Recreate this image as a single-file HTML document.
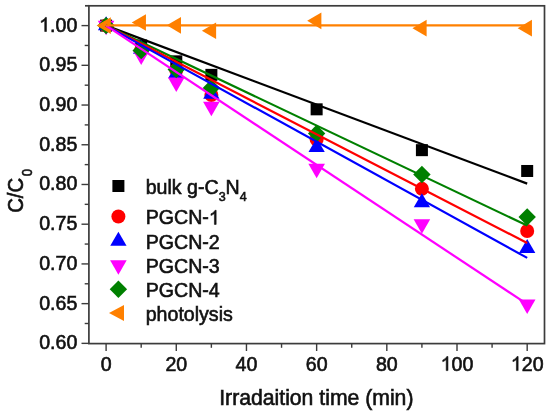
<!DOCTYPE html>
<html><head><meta charset="utf-8"><style>
html,body{margin:0;padding:0;background:#fff;}
svg{display:block;filter:blur(0.35px);}
.t{font-family:"Liberation Sans",sans-serif;font-size:19.6px;fill:#111;stroke:#111;stroke-width:0.6px;}
.s{font-size:12.5px;}
.lg{font-size:19.6px;}
.h{fill:none;stroke:none;}
</style></head><body>
<svg width="550" height="416" viewBox="0 0 550 416">
<rect x="88.9" y="5.8" width="455.60" height="337.80" fill="none" stroke="#3c3c3c" stroke-width="1.7"/>
<line x1="85" y1="5.8" x2="88.9" y2="5.8" stroke="#3c3c3c" stroke-width="1.7"/>
<line x1="81.50" y1="343.36" x2="88.9" y2="343.36" stroke="#3c3c3c" stroke-width="1.4"/>
<text x="77.3" y="349.26" text-anchor="end" class="t">0.60</text>
<line x1="84.70" y1="323.50" x2="88.9" y2="323.50" stroke="#3c3c3c" stroke-width="1.4"/>
<line x1="81.50" y1="303.64" x2="88.9" y2="303.64" stroke="#3c3c3c" stroke-width="1.4"/>
<text x="77.3" y="309.54" text-anchor="end" class="t">0.65</text>
<line x1="84.70" y1="283.78" x2="88.9" y2="283.78" stroke="#3c3c3c" stroke-width="1.4"/>
<line x1="81.50" y1="263.92" x2="88.9" y2="263.92" stroke="#3c3c3c" stroke-width="1.4"/>
<text x="77.3" y="269.82" text-anchor="end" class="t">0.70</text>
<line x1="84.70" y1="244.06" x2="88.9" y2="244.06" stroke="#3c3c3c" stroke-width="1.4"/>
<line x1="81.50" y1="224.20" x2="88.9" y2="224.20" stroke="#3c3c3c" stroke-width="1.4"/>
<text x="77.3" y="230.10" text-anchor="end" class="t">0.75</text>
<line x1="84.70" y1="204.34" x2="88.9" y2="204.34" stroke="#3c3c3c" stroke-width="1.4"/>
<line x1="81.50" y1="184.48" x2="88.9" y2="184.48" stroke="#3c3c3c" stroke-width="1.4"/>
<text x="77.3" y="190.38" text-anchor="end" class="t">0.80</text>
<line x1="84.70" y1="164.62" x2="88.9" y2="164.62" stroke="#3c3c3c" stroke-width="1.4"/>
<line x1="81.50" y1="144.76" x2="88.9" y2="144.76" stroke="#3c3c3c" stroke-width="1.4"/>
<text x="77.3" y="150.66" text-anchor="end" class="t">0.85</text>
<line x1="84.70" y1="124.90" x2="88.9" y2="124.90" stroke="#3c3c3c" stroke-width="1.4"/>
<line x1="81.50" y1="105.04" x2="88.9" y2="105.04" stroke="#3c3c3c" stroke-width="1.4"/>
<text x="77.3" y="110.94" text-anchor="end" class="t">0.90</text>
<line x1="84.70" y1="85.18" x2="88.9" y2="85.18" stroke="#3c3c3c" stroke-width="1.4"/>
<line x1="81.50" y1="65.32" x2="88.9" y2="65.32" stroke="#3c3c3c" stroke-width="1.4"/>
<text x="77.3" y="71.22" text-anchor="end" class="t">0.95</text>
<line x1="84.70" y1="45.46" x2="88.9" y2="45.46" stroke="#3c3c3c" stroke-width="1.4"/>
<line x1="81.50" y1="25.60" x2="88.9" y2="25.60" stroke="#3c3c3c" stroke-width="1.4"/>
<text x="77.3" y="31.50" text-anchor="end" class="t"><tspan class="h">1</tspan>.00</text>
<line x1="106.10" y1="343.6" x2="106.10" y2="351.00" stroke="#3c3c3c" stroke-width="1.4"/>
<text x="106.10" y="370.6" text-anchor="middle" class="t">0</text>
<line x1="141.19" y1="343.6" x2="141.19" y2="347.80" stroke="#3c3c3c" stroke-width="1.4"/>
<line x1="176.28" y1="343.6" x2="176.28" y2="351.00" stroke="#3c3c3c" stroke-width="1.4"/>
<text x="176.28" y="370.6" text-anchor="middle" class="t">20</text>
<line x1="211.37" y1="343.6" x2="211.37" y2="347.80" stroke="#3c3c3c" stroke-width="1.4"/>
<line x1="246.46" y1="343.6" x2="246.46" y2="351.00" stroke="#3c3c3c" stroke-width="1.4"/>
<text x="246.46" y="370.6" text-anchor="middle" class="t">40</text>
<line x1="281.55" y1="343.6" x2="281.55" y2="347.80" stroke="#3c3c3c" stroke-width="1.4"/>
<line x1="316.64" y1="343.6" x2="316.64" y2="351.00" stroke="#3c3c3c" stroke-width="1.4"/>
<text x="316.64" y="370.6" text-anchor="middle" class="t">60</text>
<line x1="351.73" y1="343.6" x2="351.73" y2="347.80" stroke="#3c3c3c" stroke-width="1.4"/>
<line x1="386.82" y1="343.6" x2="386.82" y2="351.00" stroke="#3c3c3c" stroke-width="1.4"/>
<text x="386.82" y="370.6" text-anchor="middle" class="t">80</text>
<line x1="421.91" y1="343.6" x2="421.91" y2="347.80" stroke="#3c3c3c" stroke-width="1.4"/>
<line x1="457.00" y1="343.6" x2="457.00" y2="351.00" stroke="#3c3c3c" stroke-width="1.4"/>
<text x="457.00" y="370.6" text-anchor="middle" class="t"><tspan class="h">1</tspan>00</text>
<line x1="492.09" y1="343.6" x2="492.09" y2="347.80" stroke="#3c3c3c" stroke-width="1.4"/>
<line x1="527.18" y1="343.6" x2="527.18" y2="351.00" stroke="#3c3c3c" stroke-width="1.4"/>
<text x="527.18" y="370.6" text-anchor="middle" class="t"><tspan class="h">1</tspan>20</text>
<rect x="100.10" y="19.60" width="12" height="12" fill="#000000"/>
<rect x="135.19" y="39.46" width="12" height="12" fill="#000000"/>
<rect x="170.28" y="55.35" width="12" height="12" fill="#000000"/>
<rect x="205.37" y="68.85" width="12" height="12" fill="#000000"/>
<rect x="310.64" y="103.33" width="12" height="12" fill="#000000"/>
<rect x="415.91" y="144.16" width="12" height="12" fill="#000000"/>
<rect x="521.18" y="164.98" width="12" height="12" fill="#000000"/>
<circle cx="106.10" cy="25.60" r="7" fill="#ff0000"/>
<circle cx="141.19" cy="50.23" r="7" fill="#ff0000"/>
<circle cx="176.28" cy="70.09" r="7" fill="#ff0000"/>
<circle cx="211.37" cy="95.03" r="7" fill="#ff0000"/>
<circle cx="316.64" cy="139.20" r="7" fill="#ff0000"/>
<circle cx="421.91" cy="188.85" r="7" fill="#ff0000"/>
<circle cx="527.18" cy="230.95" r="7" fill="#ff0000"/>
<polygon points="106.10,16.27 114.25,30.27 97.95,30.27" fill="#0000ff"/>
<polygon points="141.19,39.70 149.34,53.70 133.04,53.70" fill="#0000ff"/>
<polygon points="176.28,64.17 184.43,78.17 168.13,78.17" fill="#0000ff"/>
<polygon points="211.37,84.74 219.52,98.74 203.22,98.74" fill="#0000ff"/>
<polygon points="316.64,137.97 324.79,151.97 308.49,151.97" fill="#0000ff"/>
<polygon points="421.91,193.26 430.06,207.26 413.76,207.26" fill="#0000ff"/>
<polygon points="527.18,239.10 535.33,253.10 519.03,253.10" fill="#0000ff"/>
<polygon points="97.80,20.77 114.40,20.77 106.10,35.27" fill="#ff00ff"/>
<polygon points="132.89,50.40 149.49,50.40 141.19,64.90" fill="#ff00ff"/>
<polygon points="167.98,77.49 184.58,77.49 176.28,91.99" fill="#ff00ff"/>
<polygon points="203.07,101.80 219.67,101.80 211.37,116.30" fill="#ff00ff"/>
<polygon points="308.34,163.76 324.94,163.76 316.64,178.26" fill="#ff00ff"/>
<polygon points="413.61,219.13 430.21,219.13 421.91,233.63" fill="#ff00ff"/>
<polygon points="518.88,299.60 535.48,299.60 527.18,314.10" fill="#ff00ff"/>
<polygon points="106.10,16.90 114.80,25.60 106.10,34.30 97.40,25.60" fill="#008000"/>
<polygon points="141.19,41.92 149.89,50.62 141.19,59.32 132.49,50.62" fill="#008000"/>
<polygon points="176.28,60.83 184.98,69.53 176.28,78.23 167.58,69.53" fill="#008000"/>
<polygon points="211.37,79.34 220.07,88.04 211.37,96.74 202.67,88.04" fill="#008000"/>
<polygon points="316.64,124.78 325.34,133.48 316.64,142.18 307.94,133.48" fill="#008000"/>
<polygon points="421.91,165.85 430.61,174.55 421.91,183.25 413.21,174.55" fill="#008000"/>
<polygon points="527.18,208.35 535.88,217.05 527.18,225.75 518.48,217.05" fill="#008000"/>
<polygon points="96.63,25.60 110.83,17.30 110.83,33.90" fill="#ff8000"/>
<polygon points="131.72,22.50 145.92,14.20 145.92,30.80" fill="#ff8000"/>
<polygon points="166.81,25.36 181.01,17.06 181.01,33.66" fill="#ff8000"/>
<polygon points="201.90,30.68 216.10,22.38 216.10,38.98" fill="#ff8000"/>
<polygon points="307.17,20.83 321.37,12.53 321.37,29.13" fill="#ff8000"/>
<polygon points="412.44,28.14 426.64,19.84 426.64,36.44" fill="#ff8000"/>
<polygon points="517.71,28.14 531.91,19.84 531.91,36.44" fill="#ff8000"/>
<line x1="106.10" y1="25.60" x2="527.18" y2="183.6" stroke="#000000" stroke-width="2.2"/>
<line x1="106.10" y1="25.60" x2="527.18" y2="225.6" stroke="#008000" stroke-width="2.2"/>
<line x1="106.10" y1="25.60" x2="527.18" y2="243.0" stroke="#ff0000" stroke-width="2.2"/>
<line x1="106.10" y1="25.60" x2="527.18" y2="257.9" stroke="#0000ff" stroke-width="2.2"/>
<line x1="106.10" y1="25.60" x2="527.18" y2="304.2" stroke="#ff00ff" stroke-width="2.2"/>
<line x1="106.10" y1="25.4" x2="527.18" y2="25.4" stroke="#ff8000" stroke-width="2.2"/>
<rect x="112.40" y="180.00" width="12" height="12" fill="#000000"/>
<circle cx="118.40" cy="216.50" r="7" fill="#ff0000"/>
<polygon points="118.40,231.67 126.55,245.67 110.25,245.67" fill="#0000ff"/>
<polygon points="110.10,260.17 126.70,260.17 118.40,274.67" fill="#ff00ff"/>
<polygon points="118.40,280.60 127.10,289.30 118.40,298.00 109.70,289.30" fill="#008000"/>
<polygon points="109.00,313.00 124.00,304.90 124.00,321.10" fill="#ff8000"/>
<text x="145.7" y="193.90" class="t lg">bulk g-C<tspan class="s" dy="7">3</tspan><tspan dy="-7">N</tspan><tspan class="s" dy="7">4</tspan></text>
<text x="145.7" y="224.40" class="t lg">PGCN-<tspan class="h">1</tspan></text>
<text x="145.7" y="248.90" class="t lg">PGCN-2</text>
<text x="145.7" y="272.90" class="t lg">PGCN-3</text>
<text x="145.7" y="297.20" class="t lg">PGCN-4</text>
<text x="145.7" y="320.90" class="t lg">photolysis</text>
<text x="219.2" y="405" class="t" style="font-size:21.2px">Irradaition time (min)</text>
<text transform="translate(22.7,212.8) scale(1.1,1) rotate(-90)" class="t" style="font-size:20.3px">C/C<tspan style="font-size:13.2px" dx="1.6" dy="8.4">0</tspan></text>
<path d="M763 0H583V1147Q518 1085 412.5 1023Q307 961 223 930V1104Q374 1175 487 1276Q600 1377 647 1472H763Z" transform="translate(39.14,31.50) scale(0.00957,-0.00957)" fill="#111" stroke="#111" stroke-width="0.6" vector-effect="non-scaling-stroke"/>
<path d="M763 0H583V1147Q518 1085 412.5 1023Q307 961 223 930V1104Q374 1175 487 1276Q600 1377 647 1472H763Z" transform="translate(440.65,370.60) scale(0.00957,-0.00957)" fill="#111" stroke="#111" stroke-width="0.6" vector-effect="non-scaling-stroke"/>
<path d="M763 0H583V1147Q518 1085 412.5 1023Q307 961 223 930V1104Q374 1175 487 1276Q600 1377 647 1472H763Z" transform="translate(510.83,370.60) scale(0.00957,-0.00957)" fill="#111" stroke="#111" stroke-width="0.6" vector-effect="non-scaling-stroke"/>
<path d="M763 0H583V1147Q518 1085 412.5 1023Q307 961 223 930V1104Q374 1175 487 1276Q600 1377 647 1472H763Z" transform="translate(208.84,224.40) scale(0.00957,-0.00957)" fill="#111" stroke="#111" stroke-width="0.6" vector-effect="non-scaling-stroke"/>
</svg>
</body></html>
